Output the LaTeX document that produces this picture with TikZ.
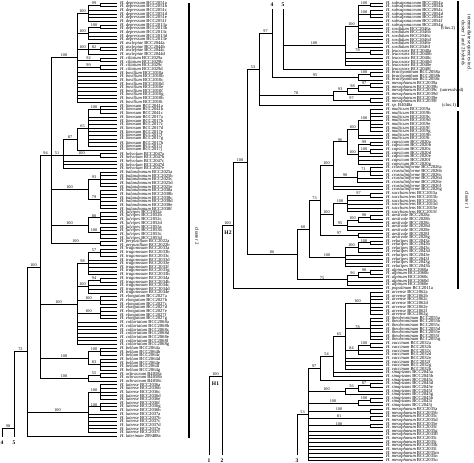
\documentclass[tikz,border=0pt]{standalone}
\usepackage{fontspec}
\setmainfont{Liberation Serif}
\usepackage{tikz}
\newcommand{\ltr}[1]{\ifcase#1\or a\or b\or c\or d\or e\or f\or g\or h\or i\or j\or k\or l\or m\or n\or o\or p\fi}
\newcommand{\hb}[4]{\draw[br] (#2,#1) -- node[bs]{#4} (#3,#1);}
\newcommand{\vb}[3]{\draw[br] (#1,#2) -- (#1,#3);}
\newcommand{\lf}[2]{\foreach \q in {#2} \draw[br] (#1,\q) -- (\tip,\q);}

\begin{document}
\begin{tikzpicture}[x=1pt,y=-1pt,
  br/.style={line width=0.5pt},
  bs/.style={above,inner sep=0.4pt,font=\fontsize{4.2}{4.2}\selectfont},
  lab/.style={anchor=west,inner sep=0pt,font=\fontsize{4.6}{4.6}\selectfont},
  stub/.style={inner sep=0pt,font=\bfseries\fontsize{5.5}{5.5}\selectfont},
  hlab/.style={inner sep=0pt,font=\bfseries\fontsize{5.5}{5.5}\selectfont},
  bar/.style={line width=1.1pt},
  clus/.style={rotate=-90,align=center,inner sep=0pt,font=\fontsize{5}{6}\selectfont}]
\useasboundingbox (0,0) rectangle (474,463);

% left tree (cluster 2)
\begin{scope}[yshift=-3pt,y=-3.67pt]
\def\tip{117}\def\lx{120}
\vb{100}{0}{1}\lf{100}{0,1}\hb{0.5}{88}{100}{99}
\vb{88}{0.5}{5}\lf{88}{2,...,5}\hb{2.75}{77}{88}{100}
\vb{100}{6}{7}\lf{100}{6,7}\hb{6.5}{88}{100}{100}
\vb{88}{6.5}{10}\lf{88}{8,9,10}\hb{8.25}{77}{88}{100}
\vb{100}{12}{13}\lf{100}{12,13}\hb{12.5}{88}{100}{82}
\vb{88}{11}{14}\lf{88}{11,14}\hb{12.5}{77}{88}{100}
\vb{100}{15}{16}\lf{100}{15,16}\hb{15.5}{77}{100}{92}
\vb{100}{17}{18}\lf{100}{17,18}\hb{17.5}{77}{100}{99}
\lf{77}{19,...,27}\vb{77}{2.75}{27}\hb{14.875}{51}{77}{100}
\vb{100}{28}{30}\lf{100}{28,29,30}\hb{29}{88}{100}{100}
\lf{88}{31,...,39}\vb{88}{29}{39}\hb{34}{77}{88}{65}
\lf{77}{40}\vb{77}{34}{40}\hb{37}{63}{77}{87}
\vb{100}{41}{42}\lf{100}{41,42}\hb{41.5}{63}{100}{100}
\lf{63}{43,44,45}\vb{63}{37}{45}\hb{41.5}{51}{63}{51}
\vb{100}{46}{50}\lf{100}{46,...,50}\hb{48}{88}{100}{93}
\vb{100}{51}{56}\lf{100}{51,...,56}\hb{53.5}{88}{100}{79}
\vb{88}{48}{53.5}\hb{50.75}{51}{88}{100}
\vb{100}{57}{60}\lf{100}{57,...,60}\hb{58.5}{88}{100}{80}
\vb{100}{61}{64}\lf{100}{61,...,64}\hb{62.5}{88}{100}{100}
\vb{88}{58.5}{62.5}\hb{60.5}{51}{88}{100}
\vb{100}{65}{66}\lf{100}{65,66}\hb{65.5}{51}{100}{100}
\vb{51}{14.875}{65.5}\hb{41.5}{40}{51}{94}
\vb{100}{67}{69}\lf{100}{67,68,69}\hb{68}{88}{100}{57}
\lf{88}{70,...,74}\vb{88}{68}{74}\hb{71}{77}{88}{98}
\vb{100}{75}{76}\lf{100}{75,76}\hb{75.5}{88}{100}{94}
\lf{88}{77,78,79}\vb{88}{75.5}{79}\hb{77.25}{77}{88}{100}
\vb{100}{80}{82}\lf{100}{80,81,82}\hb{81}{77}{100}{100}
\vb{100}{83}{86}\lf{100}{83,...,86}\hb{84.5}{77}{100}{100}
\lf{77}{87,...,93}\vb{77}{71}{93}\hb{82}{40}{77}{100}
\vb{100}{94}{96}\lf{100}{94,95,96}\hb{95}{88}{100}{100}
\vb{100}{97}{100}\lf{100}{97,...,100}\hb{98.5}{88}{100}{83}
\vb{88}{95}{98.5}\hb{96.75}{40}{88}{100}
\vb{100}{101}{102}\lf{100}{101,102}\hb{101.5}{88}{100}{55}
\lf{88}{103}\vb{88}{101.5}{103}\hb{102.25}{40}{88}{100}
\vb{40}{41.5}{102.25}\hb{71.9}{27}{40}{100}
\vb{100}{104}{108}\lf{100}{104,...,108}\hb{106}{88}{100}{100}
\vb{100}{109}{111}\lf{100}{109,110,111}\hb{110}{88}{100}{100}
\lf{88}{112,...,117}\vb{88}{106}{117}\hb{111.5}{27}{88}{100}
\lf{27}{118}\vb{27}{71.9}{118}\hb{94.95}{14}{27}{72}
\vb{14}{94.95}{118.3}\hb{115.8}{2}{14}{98}\vb{2}{115.8}{118.3}
\node[stub] (s4) at (2,119.8) {4};
\node[stub] (s5) at (14,119.8) {5};
\foreach \ia/\ib/\spc/\cde in {0/5/depressum/BCC2051,6/10/depressum/BCC2013,11/14/asclepiae/BCC2044,
  15/18/ciliatum/BCC2029,19/27/bovillum/BCC2010,28/30/limosum/BCC2041,31/40/limosum/BCC2017,
  41/45/helvolum/BCC2047,46/50/balandeanum/BCC2025,51/56/balandeanum/BCC2038,57/60/fulvipes/BCC2052,
  61/64/fulvipes/BCC2053,65/66/perpusillum/BCC2022,67/74/tragonosum/BCC2033,75/79/tragonosum/BCC2034,
  80/86/elongatum/BCC2027,87/93/collariatum/BCC2068,94/100/bellum/BCC2064,101/103/ochraceum/B4058,
  104/111/lutense/BCC2036,112/117/lutense/BCC2037,118/118/laterinum/209488}
  {\foreach \k [count=\m] in {\ia,...,\ib}
    \node[lab] at (\lx,\k) {\textit{H.~\spc}~\cde\ltr{\m}};}
\end{scope}

% right trees (H1, H2, cluster 1)
\begin{scope}[yshift=-3pt,y=-3.66pt]
\def\tip{383}\def\lx{386}
\vb{370}{0}{1}\lf{370}{0,1}\hb{0.5}{358}{370}{100}
\vb{370}{2}{4}\lf{370}{2,3,4}\hb{3}{358}{370}{100}
\lf{358}{5,...,12}\vb{358}{0.5}{12}\hb{6.25}{345}{358}{100}
\vb{370}{13}{14}\lf{370}{13,14}\hb{13.5}{345}{370}{78}
\lf{345}{15,16,17}\vb{345}{6.25}{17}\hb{11.6}{283}{345}{100}
\lf{283}{18}\vb{283}{1.6}{18}
\vb{370}{19}{20}\lf{370}{19,20}\hb{19.5}{358}{370}{100}
\lf{358}{21}\vb{358}{19.5}{21}\hb{20.25}{272}{358}{95}
\vb{272}{1.6}{20.25}\hb{8.2}{259}{272}{97}
\node[stub] (t4) at (272,0.4) {4};
\node[stub] (t5) at (283,0.4) {5};
\vb{370}{22}{23}\lf{370}{22,23}\hb{22.5}{358}{370}{97}
\lf{358}{24}\vb{358}{22.5}{24}\hb{23.25}{347}{358}{98}
\lf{347}{25}\vb{347}{23.25}{25}\hb{24.1}{333}{347}{93}
\vb{370}{26}{27}\lf{370}{26,27}\hb{26.5}{333}{370}{97}
\vb{333}{24.1}{26.5}\hb{25.3}{259}{333}{78}
\lf{259}{28}\vb{259}{8.2}{28}\hb{18.1}{247}{259}{53}
% cluster 1
\vb{370}{29}{35}\lf{370}{29,...,35}\hb{32}{358}{370}{100}
\lf{358}{36,37}\vb{358}{32}{37}\hb{34.5}{347}{358}{100}
\vb{370}{38}{39}\lf{370}{38,39}\hb{38.5}{358}{370}{99}
\vb{370}{40}{41}\lf{370}{40,41}\hb{40.5}{358}{370}{100}
\lf{358}{42,43,44}\vb{358}{38.5}{44}\hb{41.25}{347}{358}{100}
\vb{347}{34.5}{41.25}\hb{37.9}{333}{347}{96}
\vb{370}{45}{47}\lf{370}{45,46,47}\hb{46}{357}{370}{71}
\lf{357}{48,49}\vb{357}{46}{49}\hb{47.5}{333}{357}{90}
\lf{333}{50,51}\vb{333}{37.9}{51}\hb{44.45}{320}{333}{100}
\vb{370}{52}{53}\lf{370}{52,53}\hb{52.5}{347}{370}{97}
\lf{347}{54,...,57}\vb{347}{52.5}{57}\hb{54.75}{333}{347}{100}
\vb{370}{58}{59}\lf{370}{58,59}\hb{58.5}{358}{370}{98}
\lf{358}{60}\vb{358}{58.5}{60}\hb{59.25}{347}{358}{100}
\lf{347}{61,62}\vb{347}{59.25}{62}\hb{60.6}{333}{347}{95}
\vb{333}{54.75}{60.6}\hb{57.7}{320}{333}{100}
\vb{358}{63}{64}\lf{358}{63,64}\hb{63.5}{320}{358}{97}
\vb{320}{44.45}{63.5}\hb{54}{309}{320}{73}
\vb{370}{65}{66}\lf{370}{65,66}\hb{65.5}{358}{370}{100}
\lf{358}{67,68}\vb{358}{65.5}{68}\hb{66.75}{345}{358}{100}
\lf{345}{69,...,72}\vb{345}{66.75}{72}\hb{69.4}{309}{345}{100}
\vb{309}{54}{69.4}\hb{61.7}{297}{309}{60}
\vb{370}{73}{74}\lf{370}{73,74}\hb{73.5}{358}{370}{98}
\lf{358}{75}\vb{358}{73.5}{75}\hb{74.25}{347}{358}{96}
\lf{347}{76,77}\vb{347}{74.25}{77}\hb{75.6}{297}{347}{75}
\vb{297}{61.7}{75.6}\hb{68.65}{247}{297}{86}
\vb{247}{18.1}{68.65}\hb{43.4}{233}{247}{100}
\lf{233}{78}\vb{233}{43.4}{78}\hb{60.7}{222}{233}{100}
\node[hlab] (h2) at (228,62.7) {H2};
\vb{222}{60.7}{123.5}\hb{101.9}{209}{222}{100}
\node[hlab] (h1) at (215.5,103.9) {H1};
\vb{209}{101.9}{123.5}
\node[stub] (s1) at (209,125) {1};
\node[stub] (s2) at (222,125) {2};
% lower tree
\vb{370}{79}{85}\lf{370}{79,...,85}\hb{82}{345}{370}{100}
\vb{370}{86}{92}\lf{370}{86,...,92}\hb{89}{345}{370}{78}
\vb{370}{93}{94}\lf{370}{93,94}\hb{93.5}{358}{370}{100}
\lf{358}{95,96}\vb{358}{93.5}{96}\hb{94.75}{345}{358}{84}
\lf{345}{97,...,100}\vb{345}{82}{100}\hb{91}{333}{345}{65}
\lf{333}{101,102}\vb{333}{91}{102}\hb{96.5}{320}{333}{54}
\lf{320}{103}\vb{320}{96.5}{103}\hb{99.75}{308}{320}{97}
\vb{370}{104}{105}\lf{370}{104,105}\hb{104.5}{358}{370}{87}
\lf{358}{106}\vb{358}{104.5}{106}\hb{105.25}{345}{358}{56}
\lf{345}{107}\vb{345}{105.25}{107}\hb{106.1}{308}{345}{100}
\vb{370}{108}{109}\lf{370}{108,109}\hb{108.5}{358}{370}{100}
\lf{358}{110}\vb{358}{108.5}{110}\hb{109.25}{308}{358}{100}
\vb{370}{111}{112}\lf{370}{111,112}\hb{111.5}{308}{370}{100}
\vb{370}{113}{114}\lf{370}{113,114}\hb{113.5}{308}{370}{81}
\vb{370}{115}{116}\lf{370}{115,116}\hb{115.5}{308}{370}{100}
\lf{308}{117,...,125}\vb{308}{99.75}{125}\hb{112.4}{297}{308}{53}
\vb{297}{112.4}{123.5}
\node[stub] (s3) at (297,125) {3};
\foreach \ia/\ib/\spc/\cde in {0/6/subsaponaceum/BCC2054,7/12/sordidum/BCC2046,13/18/leucosarx/BCC2040,
  19/21/brachyanthum/BCC2058,22/27/mesophaeum/BCC2039,28/28/sp./B4048,29/37/multicum/BCC2019,
  38/44/capsicum/BCC2020,45/51/crustuliniforme/BCC2026,52/57/saccharolens/BCC2015,58/64/aestivale/BCC2028,
  65/72/velutipes/BCC2043,73/77/alpinum/BCC2060,78/78/populinum/BCC2011,79/85/arvense/BCC2062,
  86/92/theobrominum/BCC2055,93/100/vaccinum/BCC2032,101/110/sinapizans/BCC2045,111/125/mesophaeum/BCC2035}
  {\foreach \k [count=\m] in {\ia,...,\ib}
    \node[lab] at (\lx,\k) {\textit{H.~\spc}~\cde\ltr{\m}};}
\node[lab] (c2) at (441,7) {(clus.2)};
\node[lab] (un) at (440,24) {(unresolved)};
\node[lab] (c1) at (442,28) {(clus.1)};
\end{scope}

% cluster bars
\draw[bar] (189,3) -- (189,438);
\node[clus] (k2) at (197,236) {cluster 2};
\draw[bar] (458,1) -- (458,107);
\node[clus] (ki) at (466,43) {intermediate sequences incl.\\ cluster 1 and 2 hybrids};
\draw[bar] (458,111) -- (458,289);
\node[clus] (k1) at (467,200) {cluster 1};
\end{tikzpicture}
\end{document}
